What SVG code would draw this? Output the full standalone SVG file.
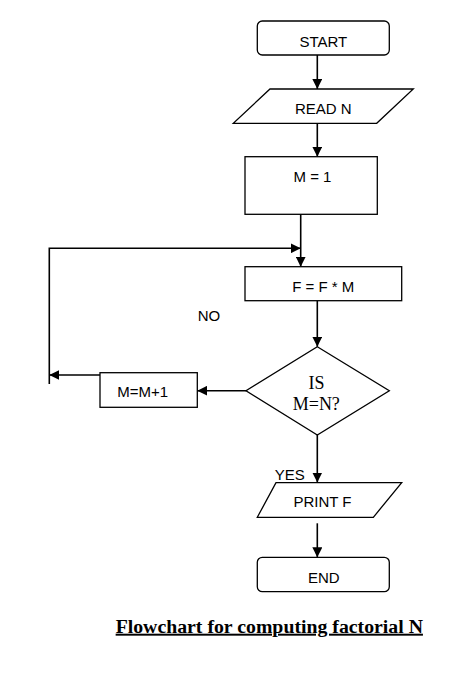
<svg xmlns="http://www.w3.org/2000/svg" width="450" height="676" viewBox="0 0 450 676">
<style>
.s{fill:#fff;stroke:#000;stroke-width:1.3}
.t{font-family:"Liberation Sans",Arial,sans-serif;font-size:15px;text-anchor:middle;fill:#000}
.r{font-family:"Liberation Serif","Times New Roman",serif;font-size:18px;text-anchor:middle;fill:#000}
.c{fill:none;stroke:#000;stroke-width:1.6}
</style>
<defs>
<marker id="ah" markerWidth="10" markerHeight="10" refX="10" refY="5" orient="auto" markerUnits="userSpaceOnUse">
<path d="M0,0 L10,5 L0,10 Z" fill="#000"/>
</marker>
</defs>
<rect width="450" height="676" fill="#fff"/>
<g id="connectors">
<line class="c" x1="317.3" y1="55" x2="317.3" y2="89" marker-end="url(#ah)"/>
<line class="c" x1="317.3" y1="123.3" x2="317.3" y2="156.7" marker-end="url(#ah)"/>
<line class="c" x1="300.7" y1="214.3" x2="300.7" y2="266.7" marker-end="url(#ah)"/>
<polyline class="c" points="49.3,384 49.3,248.3 300.7,248.3" marker-end="url(#ah)"/>
<line class="c" x1="317.3" y1="300.7" x2="317.3" y2="346.7" marker-end="url(#ah)"/>
<line class="c" x1="246" y1="390.7" x2="197.3" y2="390.7" marker-end="url(#ah)"/>
<line class="c" x1="100" y1="375" x2="49.3" y2="375" marker-end="url(#ah)"/>
<line class="c" x1="317.3" y1="435" x2="317.3" y2="482.5" marker-end="url(#ah)"/>
<line class="c" x1="317.3" y1="523.3" x2="317.3" y2="557.3" marker-end="url(#ah)"/>
<text class="t" x="209" y="321">NO</text>
<text class="t" x="289.7" y="480">YES</text>
</g>
<g id="start">
<rect class="s" x="257.3" y="21" width="132" height="34" rx="5"/>
<text class="t" x="323.3" y="46.5">START</text>
</g>
<g id="read">
<polygon class="s" points="270,89 413.3,89 376.7,123.3 233.3,123.3"/>
<text class="t" x="323.3" y="114">READ N</text>
</g>
<g id="m1">
<rect class="s" x="245" y="156.7" width="132.3" height="57.6"/>
<text class="t" x="312.5" y="182">M = 1</text>
</g>
<g id="ffm">
<rect class="s" x="245" y="266.7" width="156.7" height="34"/>
<text class="t" x="323.3" y="292">F = F * M</text>
</g>
<g id="decision">
<polygon class="s" points="317.3,346.7 389.3,390.7 317.3,435 246,390.7"/>
<text class="r" x="316.5" y="389.3">IS</text>
<text class="r" x="316.3" y="410">M=N?</text>
</g>
<g id="inc">
<rect class="s" x="100" y="372.7" width="97.3" height="34.6"/>
<text class="t" x="142.8" y="397">M=M+1</text>
</g>
<g id="print">
<polygon class="s" points="276,482.7 401.7,482.7 373.3,517.3 257.3,517.3"/>
<text class="t" x="322.5" y="507">PRINT F</text>
</g>
<g id="end">
<rect class="s" x="257.3" y="557.3" width="132" height="34.4" rx="5"/>
<text class="t" x="323.8" y="582.7">END</text>
</g>
<g id="caption">
<text x="269.3" y="632.7" font-family="Liberation Serif,'Times New Roman',serif" font-size="19.8" font-weight="bold" text-anchor="middle" text-decoration="underline">Flowchart for computing factorial N</text>
</g>
</svg>
